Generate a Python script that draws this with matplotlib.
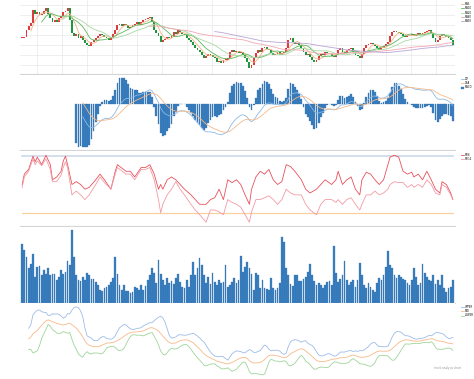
import numpy as np
import pandas as pd
import matplotlib
matplotlib.use('Agg')
import matplotlib.pyplot as plt

# daily closes
close = [13.7, 13.8, 14.5, 14.9, 15.2, 16.5, 16.1, 16.3, 16.0, 16.1,
         16.4, 16.7, 16.1, 15.7, 15.3, 15.5, 15.3, 15.7, 15.9, 16.3,
         16.4, 16.7, 15.5, 14.2, 13.9, 14.1, 13.7, 13.9, 13.5, 13.2,
         13.0, 12.9, 13.3, 13.5, 13.7, 13.9, 14.1, 14.0, 13.8, 13.7,
         13.5, 13.7, 14.1, 14.5, 15.0, 15.1, 14.9, 15.1, 15.0, 14.7,
         14.8, 15.0, 15.1, 15.3, 15.0, 15.3, 15.5, 15.6, 15.7, 15.8,
         15.3, 14.5, 14.2, 13.9, 13.3, 13.5, 13.6, 13.8, 13.7, 13.9,
         14.3, 14.1, 14.5, 14.3, 14.1, 14.0, 13.7, 13.5, 13.3, 13.0,
         12.7, 12.5, 12.3, 12.0, 11.7, 11.9, 12.1, 12.0, 11.8, 11.7,
         11.3, 11.4, 11.2, 11.5, 11.5, 11.7, 12.3, 12.5, 12.3, 12.4,
         12.2, 12.3, 12.0, 11.7, 11.3, 10.7, 11.0, 11.7, 12.2, 12.5,
         12.3, 12.7, 12.8, 12.6, 12.5, 12.2, 12.0, 12.1, 12.3, 12.0,
         12.2, 12.3, 12.7, 13.5, 13.7, 13.3, 13.1, 13.2, 13.0, 12.7,
         12.3, 12.0, 12.1, 11.8, 11.5, 11.3, 11.5, 11.9, 12.1, 12.0,
         12.3, 12.2, 12.1, 11.9, 11.8, 12.0, 12.5, 12.7, 12.3, 12.2,
         12.5, 12.6, 12.7, 12.3, 12.0, 11.9, 11.7, 12.1, 12.7, 13.0,
         13.1, 13.2, 13.1, 12.9, 12.7, 12.5, 12.7, 12.9, 13.1, 13.3,
         13.9, 14.3, 14.4, 14.3, 14.2, 14.1, 13.9, 13.8, 13.9, 14.0,
         14.1, 13.9, 14.0, 14.2, 14.1, 14.2, 14.3, 14.4, 14.5, 14.2,
         13.7, 13.3, 13.5, 13.9, 14.1, 14.0, 13.8, 13.7, 13.5, 13.0]

volume = [57, 51, 45, 34, 38, 48, 25, 35, 36, 27, 32, 28, 34, 27, 28, 28, 22, 25, 32, 28,
          30, 41, 37, 71, 45, 27, 22, 21, 25, 22, 29, 27, 23, 23, 20, 17, 12, 11, 14, 15,
          17, 20, 24, 45, 28, 17, 12, 17, 11, 11, 9, 10, 15, 14, 12, 17, 12, 16, 22, 27,
          34, 29, 19, 42, 28, 22, 17, 24, 19, 21, 18, 24, 28, 20, 15, 14, 22, 15, 27, 40,
          27, 34, 44, 37, 27, 19, 25, 18, 29, 20, 17, 22, 19, 20,
          37, 15, 17, 20, 24, 19, 22, 46, 30, 35, 40, 34, 28, 12, 29, 27, 14, 22, 14, 13,
          12, 24, 14, 12, 14, 19, 64, 59, 34, 27, 18, 16, 27, 27, 21, 21, 23, 25, 30, 38,
          27, 21, 17, 19, 17, 14, 17, 20, 21, 17, 55, 29, 20, 23, 27, 41, 22, 17, 20, 22,
          15, 22, 39, 27, 17, 14, 19, 15, 12, 10, 19, 24, 22, 27, 35, 50, 37, 34, 27, 24,
          27, 25, 23, 22, 19, 17, 22, 34, 25, 17, 19, 38, 29, 25, 22, 21, 27, 18, 22, 17,
          27, 14, 10, 14, 15, 22]

# the two RSI lines, sampled at these bar numbers
rsi_idx = [0, 1, 3, 5, 6, 7, 9, 11, 13, 14, 16, 18, 19, 20, 21, 23, 25, 27, 29, 31,
           34, 36, 38, 41, 43, 44, 48, 50, 52, 55, 57, 59, 61, 63, 64, 65, 67, 69, 71, 73,
           75, 78, 80, 82, 85, 87, 89, 91, 93, 95, 97, 99, 101, 103, 105, 106, 108, 110, 112, 114,
           116, 118, 120, 122, 124, 126, 129, 131, 133, 136, 138, 140, 143, 145, 146, 148, 150, 152, 154, 156,
           157, 159, 161, 163, 165, 167, 169, 170, 172, 174, 176, 178, 180, 181, 183, 185, 187, 189, 191, 193,
           194, 196, 198, 199]
rsi_a = [50, 61, 66, 80, 74, 79, 71, 81, 71, 55, 58, 64, 75, 80, 71, 50, 53, 50, 45, 47,
         55, 61, 55, 45, 64, 71, 64, 64, 58, 68, 68, 71, 61, 45, 50, 45, 55, 58, 55, 50,
         45, 39, 34, 29, 29, 34, 36, 45, 34, 55, 52, 55, 50, 39, 29, 45, 58, 64, 61, 66,
         55, 50, 53, 71, 69, 64, 55, 45, 41, 45, 50, 55, 50, 55, 64, 50, 55, 58, 45, 39,
         55, 63, 61, 55, 50, 55, 71, 79, 81, 79, 64, 61, 63, 58, 61, 55, 64, 55, 45, 41,
         53, 50, 41, 34]
rsi_b = [47, 58, 64, 77, 71, 75, 70, 77, 66, 53, 53, 60, 68, 74, 68, 39, 43, 39, 34, 39,
         50, 58, 52, 45, 61, 68, 61, 61, 55, 66, 66, 68, 55, 34, 20, 29, 39, 45, 53, 45,
         39, 29, 23, 18, 10, 23, 23, 21, 18, 34, 31, 29, 26, 18, 10, 21, 34, 34, 36, 38,
         34, 29, 34, 45, 41, 39, 39, 29, 23, 18, 29, 34, 34, 31, 34, 29, 34, 36, 29, 23,
         29, 39, 39, 43, 39, 41, 45, 50, 53, 52, 52, 47, 50, 47, 50, 47, 55, 50, 41, 39,
         50, 47, 39, 34]

ma_periods = [5, 10, 20, 60, 90]
ma_colors = ['#f5b183', '#5cb85c', '#a8d8a0', '#f4a6b4', '#b9a6d6']

n = len(close)
x = np.arange(n)
s = pd.Series(close)
opens = s.shift(1).fillna(s.iloc[0]).values
closes = s.values

# indicators
ema12 = s.ewm(span=12, adjust=False).mean()
ema26 = s.ewm(span=26, adjust=False).mean()
dif = ema12 - ema26
dea = dif.ewm(span=9, adjust=False).mean()
hist = 3 * (dif - dea)
hist[:25] = np.nan
dif[:28] = np.nan
dea[:28] = np.nan

mid = s.rolling(8, min_periods=4).mean()
sd = s.rolling(8, min_periods=4).std()
upper = mid + 2 * sd
lower = mid - 2 * sd

W, H = 474.0, 379.0
def box(top, bottom, left=20, right=455):
    return [left / W, 1 - bottom / H, (right - left) / W, (bottom - top) / H]

fig = plt.figure(figsize=(4.74, 3.79), dpi=100)
ax1 = fig.add_axes(box(0, 74))
ax2 = fig.add_axes(box(75, 150))
ax3 = fig.add_axes(box(151, 226))
ax4 = fig.add_axes(box(227, 302.5))
ax5 = fig.add_axes(box(303, 379))

leg_kw = dict(loc='upper left', bbox_to_anchor=(1.01, 1.0), fontsize=1.8, frameon=False,
              handlelength=1.2, handletextpad=0.3, labelspacing=0.15, borderaxespad=0.3)

# candles
up = closes >= opens
body_lo = np.minimum(opens, closes)
body_h = np.maximum(np.abs(closes - opens), 0.06)
ax1.bar(x[up], body_h[up], 0.85, bottom=body_lo[up], color='#e0393e', linewidth=0)
ax1.bar(x[~up], body_h[~up], 0.85, bottom=body_lo[~up], color='#1a9a3c', linewidth=0)
for p, c in zip(ma_periods, ma_colors):
    ax1.plot(x, s.rolling(p).mean(), color=c, lw=0.6, label='MA%d' % p)
ax1.set_ylim(10.1, 17.5)
ax1.set_yticks(np.arange(11, 18, 1.0))
ax1.set_xticks(np.arange(7, n, 11.5))
ax1.grid(True, color='#e8e8e8', lw=0.5)
ax1.set_axisbelow(True)
ax1.legend(**leg_kw)

# MACD
ax2.bar(x, hist, 0.8, color='#3a80c0', edgecolor='#2b6aa6', linewidth=0.2, label='MACD')
ax2.plot(x, dif, color='#8fb9e3', lw=0.6, label='DIF')
ax2.plot(x, dea, color='#f5b98a', lw=0.6, label='DEA')
ax2.margins(y=0.04)
ax2.legend(**leg_kw)

# RSI
ax3.plot([0, n - 1], [80, 80], color='#cfd8e8', lw=1.2)
ax3.plot([0, n - 1], [20, 20], color='#fbd0a0', lw=0.9)
ax3.plot(rsi_idx, rsi_a, color='#e8505b', lw=0.6, label='RSI6')
ax3.plot(rsi_idx, rsi_b, color='#f39aa3', lw=0.6, label='RSI12')
ax3.set_ylim(6, 85.5)
ax3.legend(**leg_kw)

# volume
ax4.bar(x, volume, 0.8, color='#3a80c0', edgecolor='#2b6aa6', linewidth=0.2)
ax4.set_ylim(0, 74)

# bollinger
ax5.plot(x, upper, color='#9dbbe8', lw=0.6, label='UPPER')
ax5.plot(x, mid, color='#f7b98a', lw=0.6, label='MID')
ax5.plot(x, lower, color='#9fd49a', lw=0.6, label='LOWER')
ax5.margins(y=0.06)
ax5.legend(**leg_kw)

for ax in (ax1, ax2, ax3, ax4, ax5):
    ax.set_xlim(-1, n)
    ax.tick_params(length=0, labelleft=False, labelbottom=False)
    for side in ('left', 'right', 'top'):
        ax.spines[side].set_visible(False)
    ax.spines['bottom'].set_color('#d4d4d4')
    ax.spines['bottom'].set_linewidth(0.8)
ax5.spines['bottom'].set_visible(False)

fig.text(0.945, 0.027, 'stock analysis chart', fontsize=2, color='#999999', ha='center')

fig.savefig('out.png', dpi=100)
